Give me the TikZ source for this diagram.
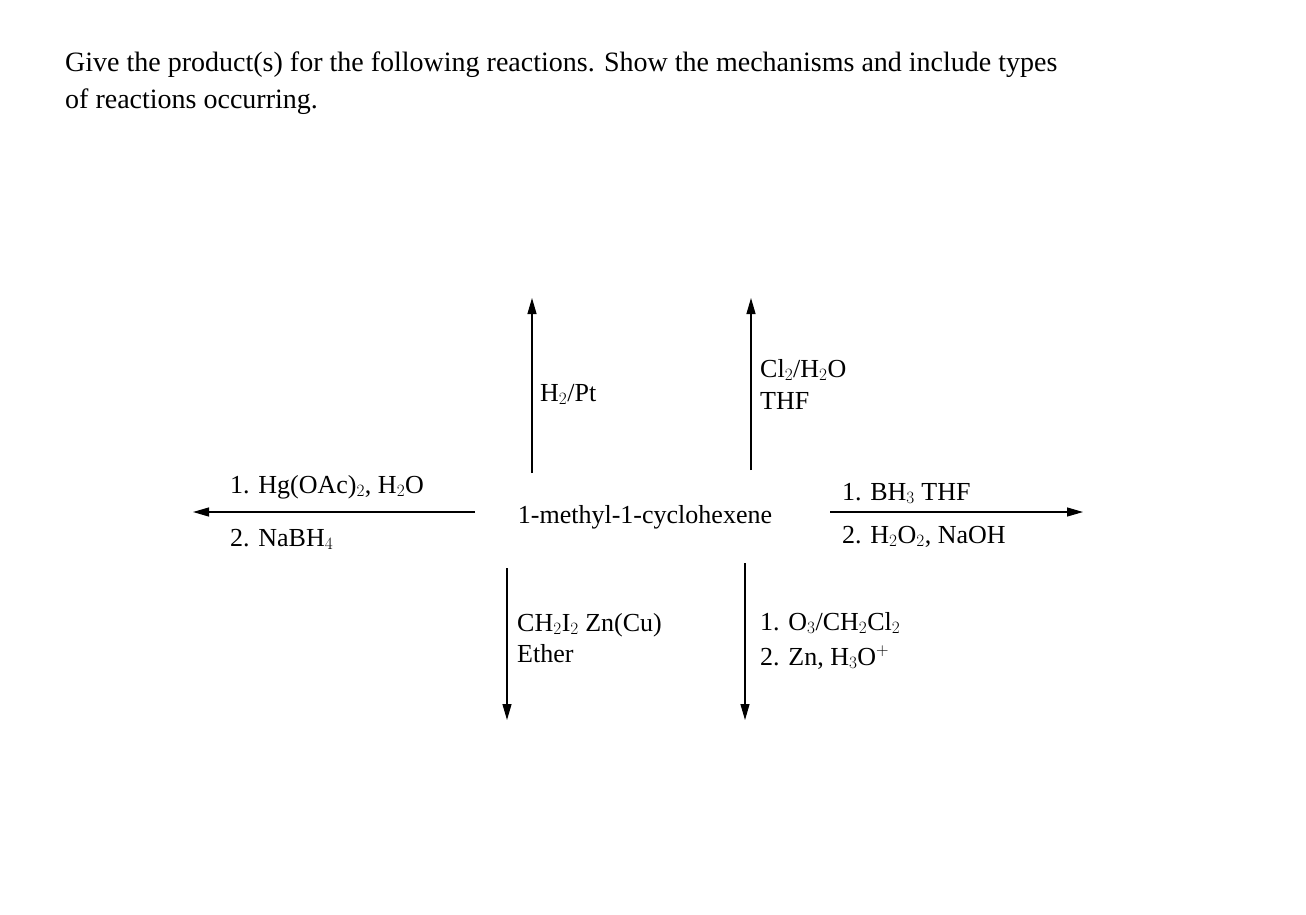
\documentclass[tikz,border=0pt]{standalone}
\usepackage{fontspec}
\setmainfont{Liberation Serif}
\usetikzlibrary{arrows.meta}
\begin{document}
\begin{tikzpicture}[x=1pt,y=-1pt,
  lbl/.style={anchor=base west,inner sep=0pt,font=\fontsize{26}{28}\selectfont},
  ttl/.style={anchor=base west,inner sep=0pt,font=\fontsize{28}{30}\selectfont},
  rxn/.style={line width=1.2pt,-{Triangle[length=16pt,width=9pt]}}]
\useasboundingbox (0,0) rectangle (1306,914);
\node[ttl] (t1) at (65,71) {Give the product(s) for the following reactions. Show the mechanisms and include types};
\node[ttl] (t2) at (65,108) {of reactions occurring.};
\node[lbl,anchor=base] (c) at (645,523) {1-methyl-1-cyclohexene};
\coordinate (u1a) at (532,473); \coordinate (u1b) at (532,298);
\coordinate (u2a) at (751,470); \coordinate (u2b) at (751,298);
\coordinate (la) at (475,512); \coordinate (lb) at (193,512);
\coordinate (ra) at (830,512); \coordinate (rb) at (1083,512);
\coordinate (d1a) at (507,568); \coordinate (d1b) at (507,720);
\coordinate (d2a) at (745,563); \coordinate (d2b) at (745,720);
\draw[rxn] (u1a)--(u1b); \draw[rxn] (u2a)--(u2b);
\draw[rxn] (la)--(lb); \draw[rxn] (ra)--(rb);
\draw[rxn] (d1a)--(d1b); \draw[rxn] (d2a)--(d2b);
\node[lbl] (h2pt) at (540,401) {H$_2$/Pt};
\node[lbl] (cl) at (760,377) {Cl$_2$/H$_2$O};
\node[lbl] (thf) at (760,409) {THF};
\node[lbl] (hg) at (230,493) {1. Hg(OAc)$_2$, H$_2$O};
\node[lbl] (nab) at (230,546) {2. NaBH$_4$};
\node[lbl] (bh) at (842,500) {1. BH$_3$ THF};
\node[lbl] (hoo) at (842,543) {2. H$_2$O$_2$, NaOH};
\node[lbl] (ch) at (517,631) {CH$_2$I$_2$ Zn(Cu)};
\node[lbl] (eth) at (517,662) {Ether};
\node[lbl] (o3) at (760,630) {1. O$_3$/CH$_2$Cl$_2$};
\node[lbl] (zn) at (760,665) {2. Zn, H$_3$O$^+$};
\end{tikzpicture}
\end{document}
